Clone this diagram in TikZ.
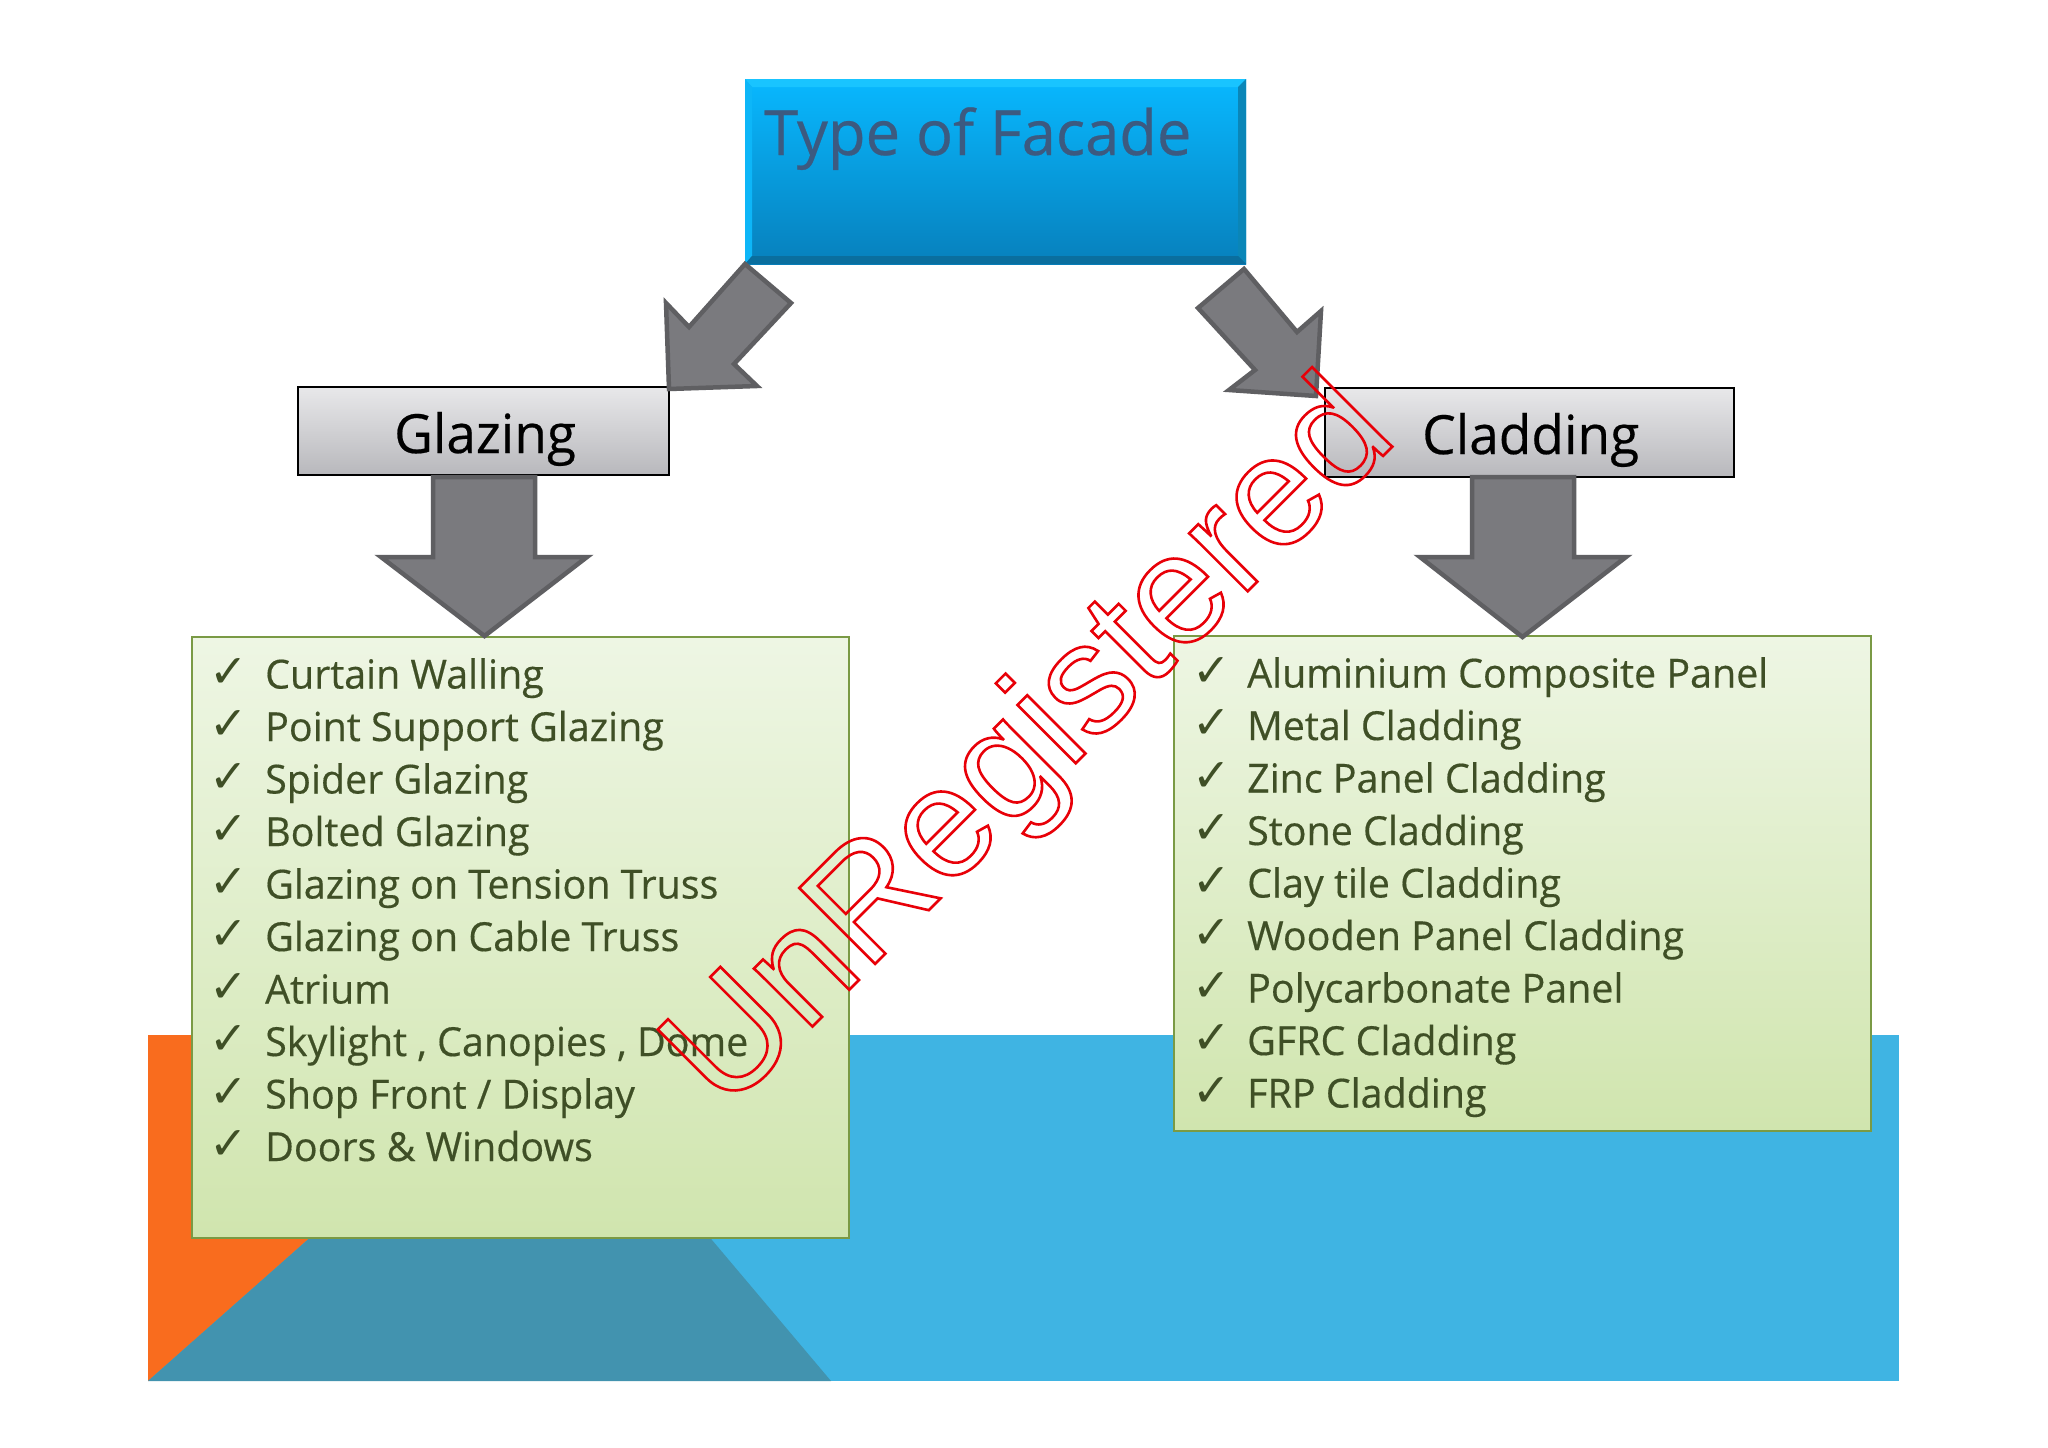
\documentclass[tikz,border=0pt]{standalone}
\usepackage{fontspec}
\setmainfont{Open Sans}[FakeStretch=0.985,FakeBold=0.4]
\newfontfamily\wmfont{Liberation Sans}
\newfontfamily\tickfont{DejaVu Sans}
\definecolor{bgblue}{HTML}{3FB4E3}
\definecolor{bgorange}{HTML}{F96C1E}
\definecolor{bgteal}{HTML}{4293AF}
\definecolor{listgreen}{HTML}{3F4F26}
\definecolor{titleblue}{HTML}{3C5A80}
\definecolor{arrowfill}{HTML}{7A7A7E}
\definecolor{arrowline}{HTML}{5F5F62}
\definecolor{greenT}{HTML}{EEF6E4}
\definecolor{greenB}{HTML}{D0E5AE}
\definecolor{greenL}{HTML}{7A9A45}
\definecolor{greyT}{HTML}{E8E8EA}
\definecolor{greyB}{HTML}{B8B8BC}
\definecolor{blueT}{HTML}{08B8FF}
\definecolor{blueB}{HTML}{0780BC}
\definecolor{bevT}{HTML}{19C4FF}
\definecolor{bevL}{HTML}{10B4F4}
\definecolor{bevR}{HTML}{0A86B8}
\definecolor{bevB}{HTML}{0A6E9E}
\tikzset{
  blockarrow/.style={fill=arrowfill,draw=arrowline,line width=4.5pt,line join=miter,miter limit=10},
  greenbox/.style={draw=greenL,line width=2pt,top color=greenT,bottom color=greenB},
  greyhead/.style={draw=black,line width=1.6pt,top color=greyT,bottom color=greyB},
  listtext/.style={anchor=base west,inner sep=0pt,text=listgreen,font=\fontsize{40}{40}\selectfont},
  ticktext/.style={anchor=base west,inner sep=0pt,text=listgreen,font=\tickfont\fontsize{46}{46}\selectfont},
  headtext/.style={anchor=base west,inner sep=0pt,text=black,font=\fontsize{54}{54}\selectfont},
}
\newcommand{\listrow}[5]{% name, tick x, text x, baseline y, text
  \node[ticktext,yshift=1.5pt] (t#1) at (#2,#4) {✓};
  \node[listtext] (#1) at (#3,#4) {#5};
}
\begin{document}
\begin{tikzpicture}[x=1pt,y=-1pt]
\useasboundingbox (0,0) rectangle (2048,1448);
\fill[white] (0,0) rectangle (2048,1448);
% background
\fill[bgblue] (148,1035) rectangle (1899,1381);
\fill[bgorange] (148,1035) -- (539,1035) -- (148,1381) -- cycle;
\fill[bgteal] (539,1035) -- (831,1381) -- (148,1381) -- cycle;
% title box
\shade[top color=blueT,bottom color=blueB] (745,79) rectangle (1246,264);
\fill[bevT] (745,79) -- (1246,79) -- (1238,87) -- (752,87) -- cycle;
\fill[bevL!60!blueT] (745,79) -- (752,87) -- (752,256) -- (745,264) -- cycle;
\fill[bevR] (1246,79) -- (1246,264) -- (1238,256) -- (1238,87) -- cycle;
\fill[bevB] (745,264) -- (752,256) -- (1238,256) -- (1246,264) -- cycle;
\node[anchor=base west,inner sep=0pt,text=titleblue,font=\fontsize{62.4}{62.4}\selectfont] (title) at (764,155) {Type of Facade};
% heads
\path[greyhead] (298,387) rectangle (669,475);
\path[greyhead] (1325,388) rectangle (1734,477);
\node[headtext] (glazing) at (394,453) {Glazing};
\node[headtext] (cladding) at (1422,454) {Cladding};
% arrows
\draw[blockarrow] (745,264) -- (791,303) -- (734,364) -- (757,386) -- (669,389) -- (666,303) -- (689,327) -- cycle;
\draw[blockarrow] (1244,269) -- (1198,308) -- (1255,370) -- (1229,390) -- (1316,396) -- (1321,311) -- (1297,332) -- cycle;
% green boxes
\path[greenbox] (192,637) rectangle (849,1238);
\path[greenbox] (1174,636) rectangle (1871,1131);
\draw[blockarrow] (433,477) -- (535,477) -- (535,557) -- (587,557) -- (484.5,636) -- (381,557) -- (433,557) -- cycle;
\draw[blockarrow] (1472,477) -- (1574,477) -- (1574,557) -- (1626,557) -- (1522.5,637) -- (1420,557) -- (1472,557) -- cycle;
% left list
\listrow{a1}{209}{265}{688.5}{Curtain Walling}
\listrow{a2}{209}{265}{741}{Point Support Glazing}
\listrow{a3}{209}{265}{793.5}{Spider Glazing}
\listrow{a4}{209}{265}{846}{Bolted Glazing}
\listrow{a5}{209}{265}{898.5}{Glazing on Tension Truss}
\listrow{a6}{209}{265}{951}{Glazing on Cable Truss}
\listrow{a7}{209}{265}{1003.5}{Atrium}
\listrow{a8}{209}{265}{1056}{Skylight , Canopies , Dome}
\listrow{a9}{209}{265}{1108.5}{Shop Front / Display}
\listrow{a10}{209}{265}{1161}{Doors \& Windows}
% right list
\listrow{b1}{1192}{1247}{687.5}{Aluminium Composite Panel}
\listrow{b2}{1192}{1247}{740}{Metal Cladding}
\listrow{b3}{1192}{1247}{792.5}{Zinc Panel Cladding}
\listrow{b4}{1192}{1247}{845}{Stone Cladding}
\listrow{b5}{1192}{1247}{897.5}{Clay tile Cladding}
\listrow{b6}{1192}{1247}{950}{Wooden Panel Cladding}
\listrow{b7}{1192}{1247}{1002.5}{Polycarbonate Panel}
\listrow{b8}{1192}{1247}{1055}{GFRC Cladding}
\listrow{b9}{1192}{1247}{1107.5}{FRP Cladding}
% watermark
\node[anchor=base west,inner sep=0pt,rotate=45,font=\wmfont\fontsize{156}{156}\selectfont] (wm) at (725,1114)
  {\special{pdf:code q 1 Tr 0.91 0 0.03 RG 2.6 w}UnRegistered\special{pdf:code Q}};
\end{tikzpicture}
\end{document}
